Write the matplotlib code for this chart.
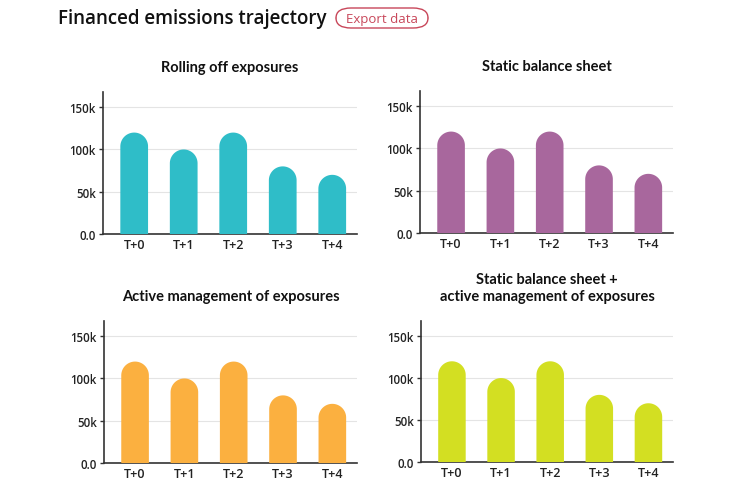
import numpy as np
import matplotlib
matplotlib.use("Agg")
import matplotlib.pyplot as plt
from matplotlib.path import Path
from matplotlib.patches import PathPatch, FancyBboxPatch

plt.rcParams['font.family'] = ['Open Sans', 'DejaVu Sans']

periods = ["T+0", "T+1", "T+2", "T+3", "T+4"]
rolling_off = [120000, 100000, 120000, 80000, 70000]
static_sheet = [120000, 100000, 120000, 80000, 70000]
active_mgmt = [120000, 100000, 120000, 80000, 70000]
static_active = [120000, 100000, 120000, 80000, 70000]

panel_titles = ["Rolling off exposures", "Static balance sheet",
                "Active management of exposures",
                "Static balance sheet +\nactive management of exposures"]
panel_values = [rolling_off, static_sheet, active_mgmt, static_active]
panel_colors = ["#2fbdc8", "#a8679d", "#fbb040", "#d3df22"]

ytick_vals = [0, 50000, 100000, 150000]
ytick_labels = ["0.0", "50k", "100k", "150k"]

W, H = 750, 502
fig = plt.figure(figsize=(W / 100, H / 100), dpi=100)

# axes boxes in pixels: left, top, right, bottom
boxes = [(103, 93, 357, 235), (420, 92, 673, 234),
         (104, 322, 357, 464), (421, 322, 673, 463)]

ymax = 168000
xlo, xhi = -0.63, 4.5
bw = 0.56


def rounded_bar(ax, x, h, w, color, px_w, px_h):
    # radius in data units, so the cap looks like a half circle
    rad_px = w * px_w / (xhi - xlo) / 2
    ry = rad_px * ymax / px_h
    rx = w / 2
    t = np.linspace(0, np.pi, 40)
    xs = [x - rx, x - rx] + list(x - rx * np.cos(t)) + [x + rx, x - rx]
    ys = [0, h - ry] + list(h - ry + ry * np.sin(t)) + [0, 0]
    verts = list(zip(xs, ys))
    codes = [Path.MOVETO] + [Path.LINETO] * (len(verts) - 2) + [Path.CLOSEPOLY]
    ax.add_patch(PathPatch(Path(verts, codes), facecolor=color, edgecolor='none', zorder=3))


for (l, t, r, b), title, vals, col in zip(boxes, panel_titles, panel_values, panel_colors):
    ax = fig.add_axes([l / W, 1 - b / H, (r - l) / W, (b - t) / H])
    px_w, px_h = r - l, b - t
    for i, v in enumerate(vals):
        rounded_bar(ax, i, v, bw, col, px_w, px_h)
    ax.set_xlim(xlo, xhi)
    ax.set_ylim(0, ymax)
    ax.set_xticks(range(len(periods)))
    ax.set_xticklabels(periods, fontsize=9, color='#222222', fontweight='semibold')
    ax.set_yticks(ytick_vals)
    ax.set_yticklabels(ytick_labels, fontsize=8.3, color='#222222', fontweight='semibold')
    ax.tick_params(axis='x', length=0, pad=3)
    ax.tick_params(axis='y', length=3, width=1, color='#333333', pad=2)
    ax.grid(axis='y', color='#e4e4e4', linewidth=0.8, zorder=0)
    ax.set_axisbelow(True)
    for s in ['top', 'right']:
        ax.spines[s].set_visible(False)
    ax.spines['left'].set_color('#333333')
    ax.spines['bottom'].set_color('#333333')
    ax.spines['left'].set_linewidth(1.2)
    ax.spines['bottom'].set_linewidth(1.2)
    ax.set_title(title, fontsize=10.5, fontweight='bold', color='#111111', pad=15,
                 linespacing=1.25, family=['Lato', 'DejaVu Sans'])

fig.text(58 / W, 1 - 19 / H, "Financed emissions trajectory", fontsize=13.5,
         fontweight='semibold', color='#111111', va='center', ha='left')

# export button
fig.patches.append(FancyBboxPatch((336 / W, 1 - 29 / H), 92 / W, 20 / H,
                                  boxstyle="round,pad=0,rounding_size=0.02",
                                  transform=fig.transFigure, facecolor='white',
                                  edgecolor='#c8475a', linewidth=1))
fig.text(382 / W, 1 - 19 / H, "Export data", fontsize=9.5, color='#c8475a',
         ha='center', va='center')

fig.savefig("out.png", dpi=100, facecolor='white')
